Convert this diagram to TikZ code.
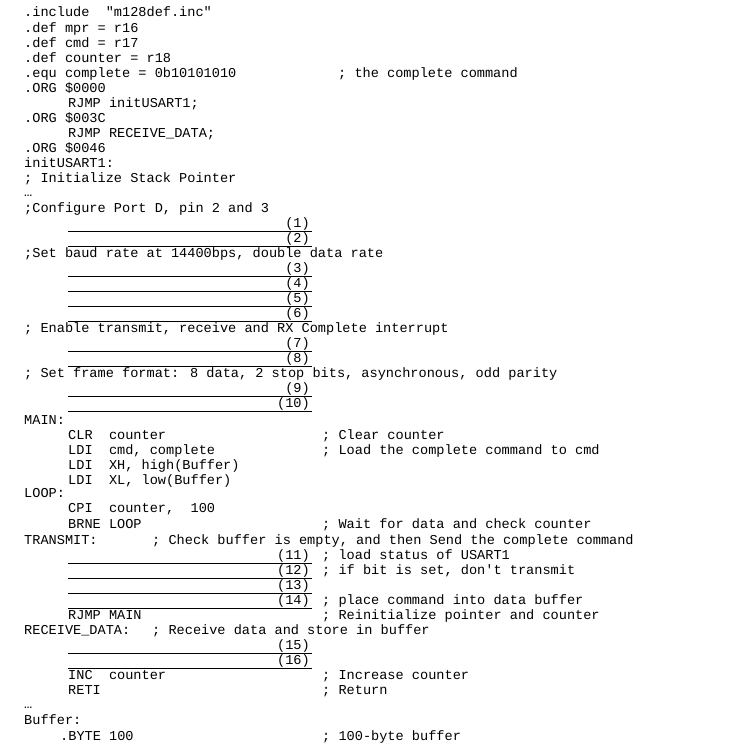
\documentclass[tikz,border=0pt]{standalone}
\usepackage{fontspec}
\newfontfamily\cm{Liberation Mono}
\tikzset{t/.style={anchor=base west,inner sep=0pt,font=\cm\fontsize{13.6}{15}\selectfont},
  b/.style={anchor=base east,inner sep=0pt,font=\cm\fontsize{13.6}{15}\selectfont},
  ul/.style={line width=0.8pt}}
\newcommand\Tx[4]{\node[t] (#1) at (#2,#3+4) {#4};}
\newcommand\Bl[3]{\node[b] (#1) at (310,#2+4) {(#3)};
  \coordinate (#1a) at (68,#2+8); \coordinate (#1b) at (312,#2+8);
  \draw[ul] (#1a) -- (#1b);}
\begin{document}
\begin{tikzpicture}[x=1pt,y=-1pt]
\useasboundingbox (0,0) rectangle (741,747);
\Tx{a1}{24}{12}{.include~~"m128def.inc"}
\Tx{a2}{24}{28}{.def mpr = r16}
\Tx{a3}{24}{43}{.def cmd = r17}
\Tx{a4}{24}{58}{.def counter = r18}
\Tx{a5}{24}{73}{.equ complete = 0b10101010}
\Tx{a5c}{338}{73}{; the complete command}
\Tx{a6}{24}{88}{.ORG \$0000}
\Tx{a7}{68}{103}{RJMP initUSART1;}
\Tx{a8}{24}{118}{.ORG \$003C}
\Tx{a9}{68}{133}{RJMP RECEIVE\_DATA;}
\Tx{a10}{24}{148}{.ORG \$0046}
\Tx{a11}{24}{163}{initUSART1:}
\Tx{a12}{24}{178}{; Initialize Stack Pointer}
\Tx{a13}{24}{192}{…}
\Tx{a14}{24}{208}{;Configure Port D, pin 2 and 3}
\Bl{u1}{223}{1}
\Bl{u2}{238}{2}
\Tx{a15}{24}{253}{;Set baud rate at 14400bps, double data rate}
\Bl{u3}{268}{3}
\Bl{u4}{283}{4}
\Bl{u5}{298}{5}
\Bl{u6}{313}{6}
\Tx{a16}{24}{328}{; Enable transmit, receive and RX Complete interrupt}
\Bl{u7}{343}{7}
\Bl{u8}{358}{8}
\Tx{a17}{24}{373}{; Set frame format: 8 data, 2 stop bits, asynchronous, odd parity}
\Bl{u9}{388}{9}
\Bl{u10}{403}{10}
\Tx{a18}{24}{420}{MAIN:}
\Tx{a19}{68}{435}{CLR~~counter}
\Tx{a19c}{322}{435}{; Clear counter}
\Tx{a20}{68}{450}{LDI~~cmd, complete}
\Tx{a20c}{322}{450}{; Load the complete command to cmd}
\Tx{a21}{68}{465}{LDI~~XH, high(Buffer)}
\Tx{a22}{68}{480}{LDI~~XL, low(Buffer)}
\Tx{a23}{24}{493}{LOOP:}
\Tx{a24}{68}{508}{CPI~~counter,~~100}
\Tx{a25}{68}{524}{BRNE LOOP}
\Tx{a25c}{322}{524}{; Wait for data and check counter}
\Tx{a26}{24}{540}{TRANSMIT:}
\Tx{a26c}{152}{540}{; Check buffer is empty, and then Send the complete command}
\Bl{u11}{555}{11}
\Tx{c11}{322}{555}{; load status of USART1}
\Bl{u12}{570}{12}
\Tx{c12}{322}{570}{; if bit is set, don't transmit}
\Bl{u13}{585}{13}
\Bl{u14}{600}{14}
\Tx{c14}{322}{600}{; place command into data buffer}
\Tx{a27}{68}{615}{RJMP MAIN}
\Tx{a27c}{322}{615}{; Reinitialize pointer and counter}
\Tx{a28}{24}{630}{RECEIVE\_DATA:}
\Tx{a28c}{152}{630}{; Receive data and store in buffer}
\Bl{u15}{645}{15}
\Bl{u16}{660}{16}
\Tx{a29}{68}{675}{INC~~counter}
\Tx{a29c}{322}{675}{; Increase counter}
\Tx{a30}{68}{690}{RETI}
\Tx{a30c}{322}{690}{; Return}
\Tx{a31}{24}{704}{…}
\Tx{a32}{24}{720}{Buffer:}
\Tx{a33}{60}{736}{.BYTE 100}
\Tx{a33c}{322}{736}{; 100-byte buffer}
\end{tikzpicture}
\end{document}
